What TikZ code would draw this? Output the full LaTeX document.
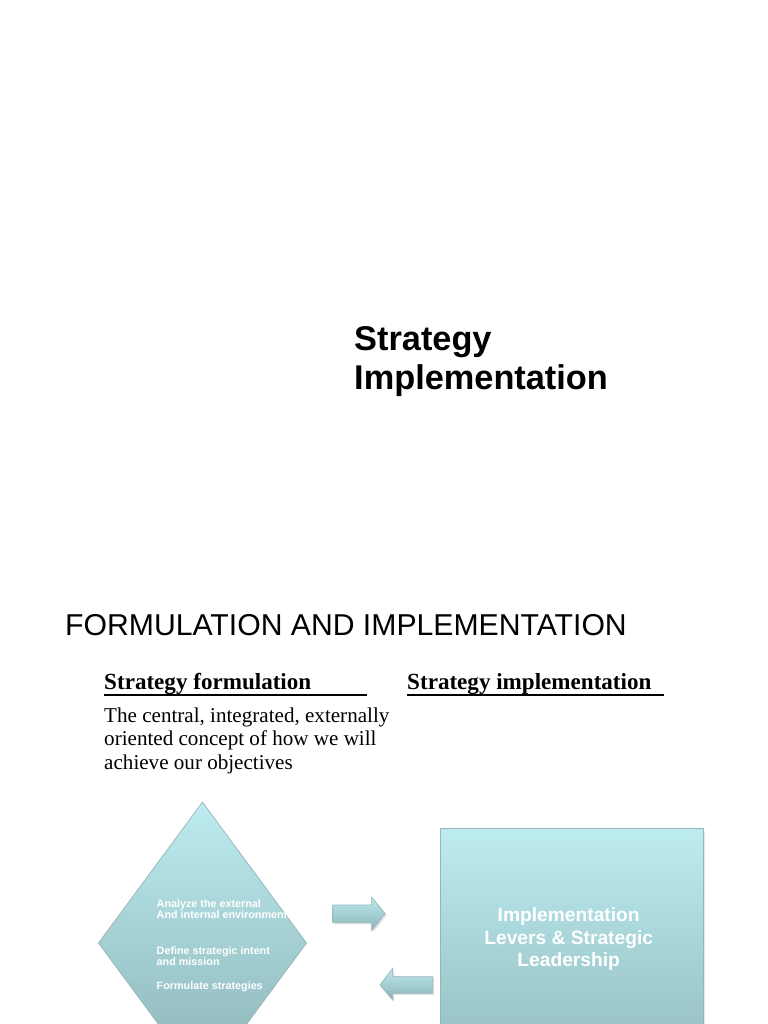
\documentclass[tikz,border=0pt]{standalone}
\usepackage{fontspec}
\setmainfont{Liberation Serif}
\setsansfont{Liberation Sans}
\usepackage{tikz}
\usetikzlibrary{shapes.geometric,shadows}
\definecolor{aquatop}{HTML}{BDECF0}
\definecolor{aquabot}{HTML}{8AB2B6}
\definecolor{aquaedge}{HTML}{98B4B7}
\tikzstyle{bigtitle} = [font=\sffamily\bfseries\fontsize{29.3}{33.2}\selectfont, align=left, anchor=north west, inner sep=0pt]
\tikzstyle{heading} = [font=\sffamily\fontsize{25.75}{30}\selectfont, anchor=north west, inner sep=0pt]
\tikzstyle{colhead} = [font=\rmfamily\bfseries\fontsize{19.7}{20}\selectfont, anchor=base west, inner sep=0pt]
\tikzstyle{bodytext} = [font=\rmfamily\fontsize{18}{20}\selectfont, align=left, anchor=north west, inner sep=0pt]
\tikzstyle{rule} = [line width=1.7pt, black]
\tikzstyle{aqua} = [draw=aquaedge, line width=0.6pt, top color=aquatop, bottom color=aquabot]
\tikzstyle{blockarrow} = [aqua, drop shadow={opacity=0.2, shadow xshift=1.5pt, shadow yshift=-1.5pt}]
\tikzstyle{whitetext} = [text=white, font=\sffamily\bfseries, inner sep=0pt]

\begin{document}
\begin{tikzpicture}[x=0.03cm, y=-0.03cm]
        \useasboundingbox (0,0) rectangle (768,1024);
        \clip (0,0) rectangle (768,1024);
        % slide 1
        \node (title) [bigtitle] at (354,326.5) {Strategy\\Implementation};
        % slide 2
        \node (heading) [heading] at (65,614.5) {FORMULATION AND IMPLEMENTATION};
        \node (formhead) [colhead] at (104,689) {Strategy formulation};
        \node (implhead) [colhead] at (407,689) {Strategy implementation};
        \draw [rule] (104,695) coordinate (formrule) -- (367,695);
        \draw [rule] (407,695) coordinate (implrule) -- (664,695);
        \node (formtext) [bodytext] at (104,707.5) {The central, integrated, externally\\oriented concept of how we will\\achieve our objectives};
        % diamond and box
        \node (form) [diamond, aqua, inner sep=0pt, minimum width=6.25cm, minimum height=8.46cm] at (202.5,943) {};
        \node (steps) [whitetext, align=left, anchor=north west, font=\sffamily\bfseries\fontsize{9.2}{9.4}\selectfont] at (156.5,899.4)
            {Analyze the external\\And internal environments\\[21.2pt]Define strategic intent\\and mission\\[11pt]Formulate strategies};
        \node (levers) [rectangle, aqua, anchor=north west, minimum width=7.88cm, minimum height=8.5cm, drop shadow={opacity=0.2, shadow xshift=2pt, shadow yshift=-2pt}] at (440,828.3) {};
        \node (leverstext) [whitetext, align=center, anchor=north, font=\sffamily\bfseries\fontsize{16.4}{19.1}\selectfont] at (568.7,907.6)
            {Implementation\\Levers \& Strategic\\Leadership};
        % block arrows
        \draw [blockarrow] (332.7,905) -- (371.7,905) -- (371.7,897.3) -- (385,913.6) -- (371.7,930.7) -- (371.7,922.7) -- (332.7,922.7) -- cycle;
        \draw [blockarrow] (432.7,976.7) -- (392.7,976.7) -- (392.7,968.3) -- (380,985) -- (392.7,1000) -- (392.7,993.3) -- (432.7,993.3) -- cycle;
\end{tikzpicture}
\end{document}
